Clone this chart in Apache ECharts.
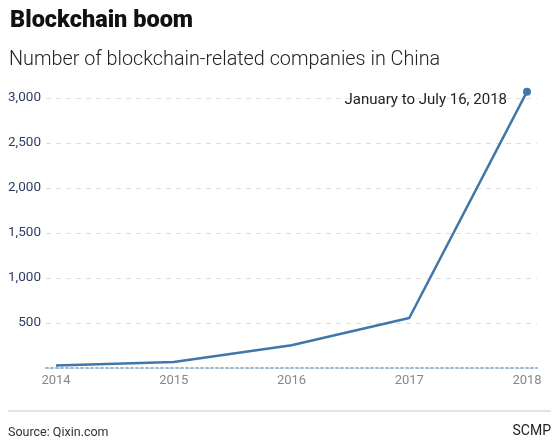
<!DOCTYPE html>
<html>
<head>
<meta charset="utf-8">
<style>
html, body { margin: 0; padding: 0; background: #fff; }
#main { width: 559px; height: 448px; }
</style>
<script src="https://cdn.jsdelivr.net/npm/echarts@6/dist/echarts.min.js"></script>
</head>
<body>
<div id="main"></div>
<script>
// data
var years = [2014, 2015, 2016, 2017, 2018];
var companies = [28, 66, 252, 556, 3070];
var yTicks = [500, 1000, 1500, 2000, 2500, 3000];

var lineColor = '#3f78a8';

var seriesData = years.map(function (y, i) {
	var p = { value: [y, companies[i]] };
	if (i === years.length - 1) {
		p.symbol = 'circle';
		p.symbolSize = 8;
		p.label = {
			show: true,
			position: 'left',
			distance: 16,
			offset: [0, 9],
			formatter: 'January to July 16, 2018',
			color: '#222',
			fontSize: 15,
			fontFamily: 'Roboto'
		};
	}
	return p;
});

var option = {
	backgroundColor: '#fff',
	animation: false,
	title: [{
		text: 'Blockchain boom',
		left: 5, top: 4,
		textStyle: { fontFamily: 'Roboto', fontWeight: 900, fontSize: 23.5, color: '#111' }
	}, {
		text: 'Number of blockchain-related companies in China',
		left: 4, top: 45,
		textStyle: { fontFamily: 'Roboto', fontWeight: 300, fontSize: 19.8, color: '#222' }
	}, {
		text: 'Source: Qixin.com',
		left: 3, top: 421,
		textStyle: { fontFamily: 'Roboto', fontWeight: 'normal', fontSize: 12.5, color: '#333' }
	}, {
		text: 'SCMP',
		right: 3, top: 419,
		textStyle: { fontFamily: 'Roboto', fontWeight: 'normal', fontSize: 14, color: '#222' }
	}],
	grid: { left: 46, right: 22, top: 98, bottom: 80 },
	xAxis: {
		type: 'value',
		min: 2013.915,
		max: 2018.085,
		axisLine: { show: true, onZero: true, lineStyle: { color: '#9ab8d6', type: [2, 3], width: 2 } },
		axisTick: { show: false },
		splitLine: { show: false },
		axisLabel: {
			customValues: years,
			color: '#888',
			fontSize: 13,
			fontFamily: 'Roboto',
			margin: 6,
			formatter: function (v) { return String(v); }
		}
	},
	yAxis: {
		type: 'value',
		min: 0,
		max: 3000,
		interval: 500,
		axisLine: { show: false },
		axisTick: { show: false },
		splitLine: { lineStyle: { color: '#dedede', type: [5, 5] } },
		axisLabel: {
			color: '#2f3d63',
			fontSize: 13.5,
			fontFamily: 'Roboto',
			margin: 5,
			formatter: function (v) {
				return yTicks.indexOf(v) >= 0 ? v.toLocaleString('en-US') : '';
			}
		}
	},
	series: [{
		type: 'line',
		data: seriesData,
		clip: false,
		showSymbol: true,
		symbol: 'none',
		lineStyle: { color: lineColor, width: 2.5 },
		itemStyle: { color: lineColor }
	}],
	graphic: [{
		type: 'line',
		shape: { x1: 8, y1: 411, x2: 551, y2: 411 },
		style: { stroke: '#c8c8c8', lineWidth: 1 }
	}]
};

var chart = echarts.init(document.getElementById('main'));
chart.setOption(option);
</script>
</body>
</html>
